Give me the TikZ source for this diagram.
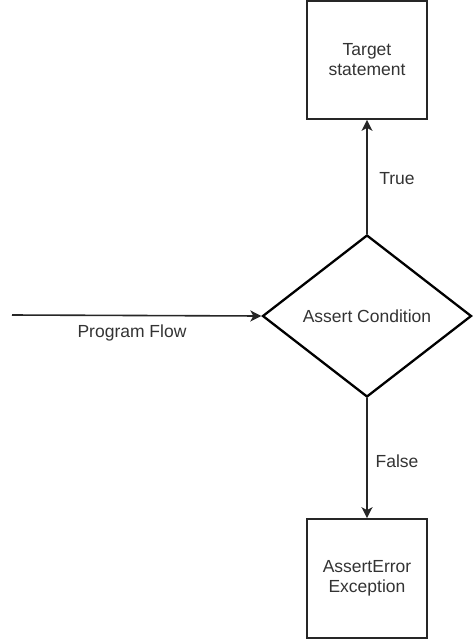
\documentclass[tikz,border=0pt]{standalone}
\usepackage{fontspec}
\setmainfont{Liberation Sans}
\usetikzlibrary{shapes.geometric,arrows.meta}
\begin{document}
\begin{tikzpicture}[x=1pt,y=-1pt,
  txt/.style={text=black!80, font=\fontsize{17.5}{20}\selectfont},
  boxnode/.style={draw=black!85, line width=1.7pt, minimum width=120pt, minimum height=118pt, inner sep=0pt, align=center, txt},
  decnode/.style={draw=black, line width=2.3pt, diamond, minimum width=209pt, minimum height=162pt, inner sep=0pt, txt},
  flow/.style={draw=black!85, line width=1.6pt, -{Stealth[length=11pt,width=11pt,inset=3pt]}}
]
\useasboundingbox (0,0) rectangle (474,641);
\node[boxnode] (target) at (367,60) {Target\\statement};
\node[decnode] (cond) at (367,316) {Assert Condition};
\node[boxnode, minimum height=119pt] (err) at (367,578.5) {AssertError\\Exception};
\coordinate (start) at (12,315);
\draw[flow] (start) -- (cond.west);
\draw[flow] (cond.north) -- (target.south);
\draw[flow] (cond.south) -- (err.north);
\node[txt] (ltrue) at (397,179) {True};
\node[txt] (lfalse) at (397,461) {False};
\node[txt] (lflow) at (132,333) {Program Flow};
\end{tikzpicture}
\end{document}
